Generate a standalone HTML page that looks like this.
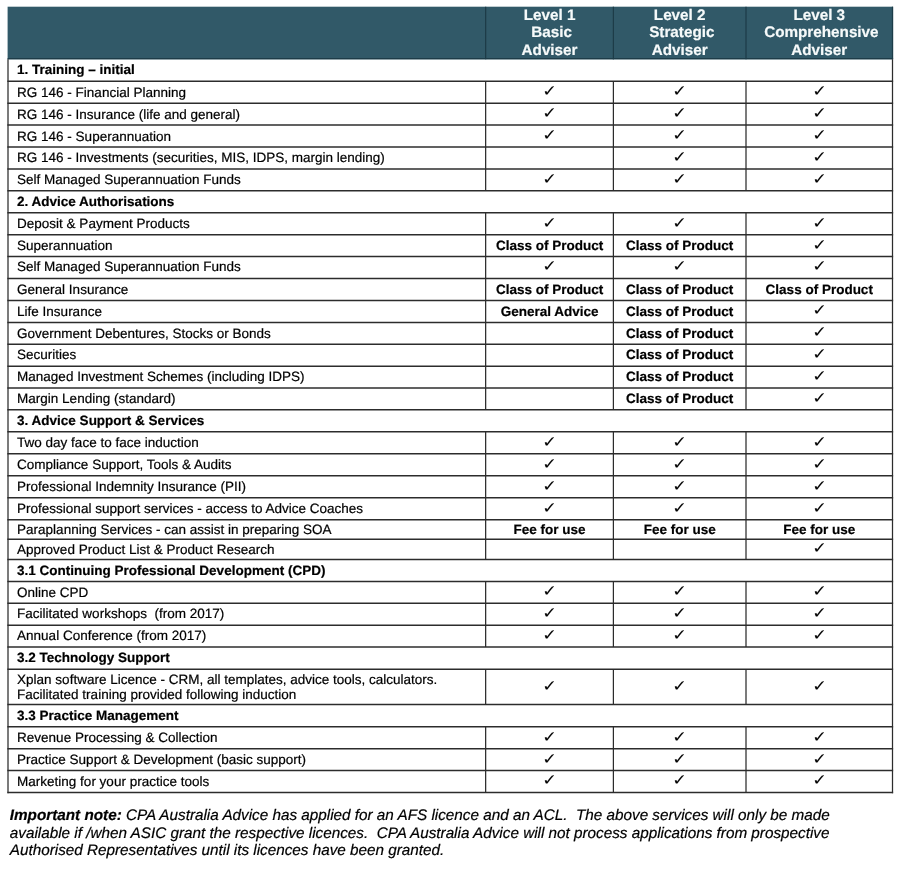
<!DOCTYPE html>
<html lang="en"><head><meta charset="utf-8"><title>Adviser levels</title>
<style>
html,body{margin:0;padding:0;background:#fff}
body{width:900px;height:870px;position:relative;overflow:hidden;font-family:"Liberation Sans",sans-serif;color:#000;text-rendering:geometricPrecision}
#g{position:absolute;left:0;top:0}
.t{position:absolute;white-space:pre;font-size:13.5px;line-height:16px;height:16px;-webkit-text-stroke:0.2px #000}
.l{left:17.1px}
.s{font-weight:bold}
.c{text-align:center;font-weight:bold}
.k{text-align:center;font-family:"DejaVu Sans",sans-serif;font-size:15.5px;-webkit-text-stroke:0.15px #000}
.k i{display:inline-block;font-style:normal;transform:scaleX(1.13)}
.h{position:absolute;color:#f6fafa;font-weight:bold;font-size:15.25px;line-height:18px;height:18px;text-align:center;white-space:pre;-webkit-text-stroke:0.2px #f6fafa}
.n{position:absolute;left:9.8px;font-size:15.28px;line-height:18px;height:18px;font-style:italic;white-space:pre;color:#000;-webkit-text-stroke:0.2px #000}
</style></head><body>

<svg id="g" width="900" height="870" viewBox="0 0 900 870">
<rect x="7.6" y="6.7" width="885.50" height="52.65" fill="#315968"/>
<line x1="485.65" y1="6.7" x2="485.65" y2="59.35" stroke="#1d3c48" stroke-width="1.25"/>
<line x1="613.4" y1="6.7" x2="613.4" y2="59.35" stroke="#1d3c48" stroke-width="1.25"/>
<line x1="746.0" y1="6.7" x2="746.0" y2="59.35" stroke="#1d3c48" stroke-width="1.25"/>
<line x1="7.6" y1="58.7" x2="893.1" y2="58.7" stroke="#1d3c48" stroke-width="1.3"/>
<line x1="892.5" y1="6.7" x2="892.5" y2="59.35" stroke="#1d3c48" stroke-width="1.25"/>
<line x1="8.0" y1="59.35" x2="8.0" y2="793.15" stroke="#2c2c2c" stroke-width="1.25"/>
<line x1="892.5" y1="59.35" x2="892.5" y2="793.15" stroke="#2c2c2c" stroke-width="1.25"/>
<line x1="7.375" y1="81.25" x2="893.125" y2="81.25" stroke="#2c2c2c" stroke-width="1.5"/>
<line x1="7.375" y1="103.15" x2="893.125" y2="103.15" stroke="#2c2c2c" stroke-width="1.5"/>
<line x1="7.375" y1="125.05" x2="893.125" y2="125.05" stroke="#2c2c2c" stroke-width="1.5"/>
<line x1="7.375" y1="147.10" x2="893.125" y2="147.10" stroke="#2c2c2c" stroke-width="1.5"/>
<line x1="7.375" y1="169.00" x2="893.125" y2="169.00" stroke="#2c2c2c" stroke-width="1.5"/>
<line x1="7.375" y1="190.80" x2="893.125" y2="190.80" stroke="#2c2c2c" stroke-width="1.5"/>
<line x1="7.375" y1="212.70" x2="893.125" y2="212.70" stroke="#2c2c2c" stroke-width="1.5"/>
<line x1="7.375" y1="234.70" x2="893.125" y2="234.70" stroke="#2c2c2c" stroke-width="1.5"/>
<line x1="7.375" y1="256.55" x2="893.125" y2="256.55" stroke="#2c2c2c" stroke-width="1.5"/>
<line x1="7.375" y1="278.50" x2="893.125" y2="278.50" stroke="#2c2c2c" stroke-width="1.5"/>
<line x1="7.375" y1="300.55" x2="893.125" y2="300.55" stroke="#2c2c2c" stroke-width="1.5"/>
<line x1="7.375" y1="322.50" x2="893.125" y2="322.50" stroke="#2c2c2c" stroke-width="1.5"/>
<line x1="7.375" y1="344.25" x2="893.125" y2="344.25" stroke="#2c2c2c" stroke-width="1.5"/>
<line x1="7.375" y1="366.20" x2="893.125" y2="366.20" stroke="#2c2c2c" stroke-width="1.5"/>
<line x1="7.375" y1="387.95" x2="893.125" y2="387.95" stroke="#2c2c2c" stroke-width="1.5"/>
<line x1="7.375" y1="409.80" x2="893.125" y2="409.80" stroke="#2c2c2c" stroke-width="1.5"/>
<line x1="7.375" y1="431.70" x2="893.125" y2="431.70" stroke="#2c2c2c" stroke-width="1.5"/>
<line x1="7.375" y1="453.70" x2="893.125" y2="453.70" stroke="#2c2c2c" stroke-width="1.5"/>
<line x1="7.375" y1="475.80" x2="893.125" y2="475.80" stroke="#2c2c2c" stroke-width="1.5"/>
<line x1="7.375" y1="497.80" x2="893.125" y2="497.80" stroke="#2c2c2c" stroke-width="1.5"/>
<line x1="7.375" y1="519.70" x2="893.125" y2="519.70" stroke="#2c2c2c" stroke-width="1.5"/>
<line x1="7.375" y1="539.35" x2="893.125" y2="539.35" stroke="#2c2c2c" stroke-width="1.5"/>
<line x1="7.375" y1="559.45" x2="893.125" y2="559.45" stroke="#2c2c2c" stroke-width="1.5"/>
<line x1="7.375" y1="581.50" x2="893.125" y2="581.50" stroke="#2c2c2c" stroke-width="1.5"/>
<line x1="7.375" y1="603.20" x2="893.125" y2="603.20" stroke="#2c2c2c" stroke-width="1.5"/>
<line x1="7.375" y1="625.20" x2="893.125" y2="625.20" stroke="#2c2c2c" stroke-width="1.5"/>
<line x1="7.375" y1="647.10" x2="893.125" y2="647.10" stroke="#2c2c2c" stroke-width="1.5"/>
<line x1="7.375" y1="669.30" x2="893.125" y2="669.30" stroke="#2c2c2c" stroke-width="1.5"/>
<line x1="7.375" y1="704.60" x2="893.125" y2="704.60" stroke="#2c2c2c" stroke-width="1.5"/>
<line x1="7.375" y1="726.75" x2="893.125" y2="726.75" stroke="#2c2c2c" stroke-width="1.5"/>
<line x1="7.375" y1="748.70" x2="893.125" y2="748.70" stroke="#2c2c2c" stroke-width="1.5"/>
<line x1="7.375" y1="770.60" x2="893.125" y2="770.60" stroke="#2c2c2c" stroke-width="1.5"/>
<line x1="7.375" y1="792.50" x2="893.125" y2="792.50" stroke="#2c2c2c" stroke-width="1.5"/>
<line x1="485.65" y1="81.15" x2="485.65" y2="103.05" stroke="#2c2c2c" stroke-width="1.25"/>
<line x1="613.4" y1="81.15" x2="613.4" y2="103.05" stroke="#2c2c2c" stroke-width="1.25"/>
<line x1="746.0" y1="81.15" x2="746.0" y2="103.05" stroke="#2c2c2c" stroke-width="1.25"/>
<line x1="485.65" y1="103.05" x2="485.65" y2="124.95" stroke="#2c2c2c" stroke-width="1.25"/>
<line x1="613.4" y1="103.05" x2="613.4" y2="124.95" stroke="#2c2c2c" stroke-width="1.25"/>
<line x1="746.0" y1="103.05" x2="746.0" y2="124.95" stroke="#2c2c2c" stroke-width="1.25"/>
<line x1="485.65" y1="124.95" x2="485.65" y2="147" stroke="#2c2c2c" stroke-width="1.25"/>
<line x1="613.4" y1="124.95" x2="613.4" y2="147" stroke="#2c2c2c" stroke-width="1.25"/>
<line x1="746.0" y1="124.95" x2="746.0" y2="147" stroke="#2c2c2c" stroke-width="1.25"/>
<line x1="485.65" y1="147" x2="485.65" y2="168.9" stroke="#2c2c2c" stroke-width="1.25"/>
<line x1="613.4" y1="147" x2="613.4" y2="168.9" stroke="#2c2c2c" stroke-width="1.25"/>
<line x1="746.0" y1="147" x2="746.0" y2="168.9" stroke="#2c2c2c" stroke-width="1.25"/>
<line x1="485.65" y1="168.9" x2="485.65" y2="190.7" stroke="#2c2c2c" stroke-width="1.25"/>
<line x1="613.4" y1="168.9" x2="613.4" y2="190.7" stroke="#2c2c2c" stroke-width="1.25"/>
<line x1="746.0" y1="168.9" x2="746.0" y2="190.7" stroke="#2c2c2c" stroke-width="1.25"/>
<line x1="485.65" y1="212.6" x2="485.65" y2="234.6" stroke="#2c2c2c" stroke-width="1.25"/>
<line x1="613.4" y1="212.6" x2="613.4" y2="234.6" stroke="#2c2c2c" stroke-width="1.25"/>
<line x1="746.0" y1="212.6" x2="746.0" y2="234.6" stroke="#2c2c2c" stroke-width="1.25"/>
<line x1="485.65" y1="234.6" x2="485.65" y2="256.45" stroke="#2c2c2c" stroke-width="1.25"/>
<line x1="613.4" y1="234.6" x2="613.4" y2="256.45" stroke="#2c2c2c" stroke-width="1.25"/>
<line x1="746.0" y1="234.6" x2="746.0" y2="256.45" stroke="#2c2c2c" stroke-width="1.25"/>
<line x1="485.65" y1="256.45" x2="485.65" y2="278.4" stroke="#2c2c2c" stroke-width="1.25"/>
<line x1="613.4" y1="256.45" x2="613.4" y2="278.4" stroke="#2c2c2c" stroke-width="1.25"/>
<line x1="746.0" y1="256.45" x2="746.0" y2="278.4" stroke="#2c2c2c" stroke-width="1.25"/>
<line x1="485.65" y1="278.4" x2="485.65" y2="300.45" stroke="#2c2c2c" stroke-width="1.25"/>
<line x1="613.4" y1="278.4" x2="613.4" y2="300.45" stroke="#2c2c2c" stroke-width="1.25"/>
<line x1="746.0" y1="278.4" x2="746.0" y2="300.45" stroke="#2c2c2c" stroke-width="1.25"/>
<line x1="485.65" y1="300.45" x2="485.65" y2="322.4" stroke="#2c2c2c" stroke-width="1.25"/>
<line x1="613.4" y1="300.45" x2="613.4" y2="322.4" stroke="#2c2c2c" stroke-width="1.25"/>
<line x1="746.0" y1="300.45" x2="746.0" y2="322.4" stroke="#2c2c2c" stroke-width="1.25"/>
<line x1="485.65" y1="322.4" x2="485.65" y2="344.15" stroke="#2c2c2c" stroke-width="1.25"/>
<line x1="613.4" y1="322.4" x2="613.4" y2="344.15" stroke="#2c2c2c" stroke-width="1.25"/>
<line x1="746.0" y1="322.4" x2="746.0" y2="344.15" stroke="#2c2c2c" stroke-width="1.25"/>
<line x1="485.65" y1="344.15" x2="485.65" y2="366.1" stroke="#2c2c2c" stroke-width="1.25"/>
<line x1="613.4" y1="344.15" x2="613.4" y2="366.1" stroke="#2c2c2c" stroke-width="1.25"/>
<line x1="746.0" y1="344.15" x2="746.0" y2="366.1" stroke="#2c2c2c" stroke-width="1.25"/>
<line x1="485.65" y1="366.1" x2="485.65" y2="387.85" stroke="#2c2c2c" stroke-width="1.25"/>
<line x1="613.4" y1="366.1" x2="613.4" y2="387.85" stroke="#2c2c2c" stroke-width="1.25"/>
<line x1="746.0" y1="366.1" x2="746.0" y2="387.85" stroke="#2c2c2c" stroke-width="1.25"/>
<line x1="485.65" y1="387.85" x2="485.65" y2="409.7" stroke="#2c2c2c" stroke-width="1.25"/>
<line x1="613.4" y1="387.85" x2="613.4" y2="409.7" stroke="#2c2c2c" stroke-width="1.25"/>
<line x1="746.0" y1="387.85" x2="746.0" y2="409.7" stroke="#2c2c2c" stroke-width="1.25"/>
<line x1="485.65" y1="431.6" x2="485.65" y2="453.6" stroke="#2c2c2c" stroke-width="1.25"/>
<line x1="613.4" y1="431.6" x2="613.4" y2="453.6" stroke="#2c2c2c" stroke-width="1.25"/>
<line x1="746.0" y1="431.6" x2="746.0" y2="453.6" stroke="#2c2c2c" stroke-width="1.25"/>
<line x1="485.65" y1="453.6" x2="485.65" y2="475.7" stroke="#2c2c2c" stroke-width="1.25"/>
<line x1="613.4" y1="453.6" x2="613.4" y2="475.7" stroke="#2c2c2c" stroke-width="1.25"/>
<line x1="746.0" y1="453.6" x2="746.0" y2="475.7" stroke="#2c2c2c" stroke-width="1.25"/>
<line x1="485.65" y1="475.7" x2="485.65" y2="497.7" stroke="#2c2c2c" stroke-width="1.25"/>
<line x1="613.4" y1="475.7" x2="613.4" y2="497.7" stroke="#2c2c2c" stroke-width="1.25"/>
<line x1="746.0" y1="475.7" x2="746.0" y2="497.7" stroke="#2c2c2c" stroke-width="1.25"/>
<line x1="485.65" y1="497.7" x2="485.65" y2="519.6" stroke="#2c2c2c" stroke-width="1.25"/>
<line x1="613.4" y1="497.7" x2="613.4" y2="519.6" stroke="#2c2c2c" stroke-width="1.25"/>
<line x1="746.0" y1="497.7" x2="746.0" y2="519.6" stroke="#2c2c2c" stroke-width="1.25"/>
<line x1="485.65" y1="519.6" x2="485.65" y2="539.25" stroke="#2c2c2c" stroke-width="1.25"/>
<line x1="613.4" y1="519.6" x2="613.4" y2="539.25" stroke="#2c2c2c" stroke-width="1.25"/>
<line x1="746.0" y1="519.6" x2="746.0" y2="539.25" stroke="#2c2c2c" stroke-width="1.25"/>
<line x1="485.65" y1="539.25" x2="485.65" y2="559.35" stroke="#2c2c2c" stroke-width="1.25"/>
<line x1="613.4" y1="539.25" x2="613.4" y2="559.35" stroke="#2c2c2c" stroke-width="1.25"/>
<line x1="746.0" y1="539.25" x2="746.0" y2="559.35" stroke="#2c2c2c" stroke-width="1.25"/>
<line x1="485.65" y1="581.4" x2="485.65" y2="603.1" stroke="#2c2c2c" stroke-width="1.25"/>
<line x1="613.4" y1="581.4" x2="613.4" y2="603.1" stroke="#2c2c2c" stroke-width="1.25"/>
<line x1="746.0" y1="581.4" x2="746.0" y2="603.1" stroke="#2c2c2c" stroke-width="1.25"/>
<line x1="485.65" y1="603.1" x2="485.65" y2="625.1" stroke="#2c2c2c" stroke-width="1.25"/>
<line x1="613.4" y1="603.1" x2="613.4" y2="625.1" stroke="#2c2c2c" stroke-width="1.25"/>
<line x1="746.0" y1="603.1" x2="746.0" y2="625.1" stroke="#2c2c2c" stroke-width="1.25"/>
<line x1="485.65" y1="625.1" x2="485.65" y2="647.0" stroke="#2c2c2c" stroke-width="1.25"/>
<line x1="613.4" y1="625.1" x2="613.4" y2="647.0" stroke="#2c2c2c" stroke-width="1.25"/>
<line x1="746.0" y1="625.1" x2="746.0" y2="647.0" stroke="#2c2c2c" stroke-width="1.25"/>
<line x1="485.65" y1="669.2" x2="485.65" y2="704.5" stroke="#2c2c2c" stroke-width="1.25"/>
<line x1="613.4" y1="669.2" x2="613.4" y2="704.5" stroke="#2c2c2c" stroke-width="1.25"/>
<line x1="746.0" y1="669.2" x2="746.0" y2="704.5" stroke="#2c2c2c" stroke-width="1.25"/>
<line x1="485.65" y1="726.65" x2="485.65" y2="748.6" stroke="#2c2c2c" stroke-width="1.25"/>
<line x1="613.4" y1="726.65" x2="613.4" y2="748.6" stroke="#2c2c2c" stroke-width="1.25"/>
<line x1="746.0" y1="726.65" x2="746.0" y2="748.6" stroke="#2c2c2c" stroke-width="1.25"/>
<line x1="485.65" y1="748.6" x2="485.65" y2="770.5" stroke="#2c2c2c" stroke-width="1.25"/>
<line x1="613.4" y1="748.6" x2="613.4" y2="770.5" stroke="#2c2c2c" stroke-width="1.25"/>
<line x1="746.0" y1="748.6" x2="746.0" y2="770.5" stroke="#2c2c2c" stroke-width="1.25"/>
<line x1="485.65" y1="770.5" x2="485.65" y2="792.4" stroke="#2c2c2c" stroke-width="1.25"/>
<line x1="613.4" y1="770.5" x2="613.4" y2="792.4" stroke="#2c2c2c" stroke-width="1.25"/>
<line x1="746.0" y1="770.5" x2="746.0" y2="792.4" stroke="#2c2c2c" stroke-width="1.25"/>
</svg>
<div class="h" style="left:485.65px;width:127.8px;top:7px">Level 1</div>
<div class="h" style="left:485.65px;width:127.8px;top:24px"> Basic</div>
<div class="h" style="left:485.65px;width:127.8px;top:42px">Adviser</div>
<div class="h" style="left:613.4px;width:132.6px;top:7px">Level 2</div>
<div class="h" style="left:613.4px;width:132.6px;top:24px"> Strategic</div>
<div class="h" style="left:613.4px;width:132.6px;top:42px">Adviser</div>
<div class="h" style="left:746.0px;width:146.5px;top:7px">Level 3</div>
<div class="h" style="left:746.0px;width:146.5px;top:24px"> Comprehensive</div>
<div class="h" style="left:746.0px;width:146.5px;top:42px">Adviser</div>
<div class="t l s" style="top:62px">1. Training – initial</div>
<div class="t l" style="top:85px">RG 146 - Financial Planning</div>
<div class="t k" style="left:485.65px;width:127.8px;top:83px"><i>✓</i></div>
<div class="t k" style="left:613.4px;width:132.6px;top:83px"><i>✓</i></div>
<div class="t k" style="left:746.0px;width:146.5px;top:83px"><i>✓</i></div>
<div class="t l" style="top:107px">RG 146 - Insurance (life and general)</div>
<div class="t k" style="left:485.65px;width:127.8px;top:105px"><i>✓</i></div>
<div class="t k" style="left:613.4px;width:132.6px;top:105px"><i>✓</i></div>
<div class="t k" style="left:746.0px;width:146.5px;top:105px"><i>✓</i></div>
<div class="t l" style="top:129px">RG 146 - Superannuation</div>
<div class="t k" style="left:485.65px;width:127.8px;top:127px"><i>✓</i></div>
<div class="t k" style="left:613.4px;width:132.6px;top:127px"><i>✓</i></div>
<div class="t k" style="left:746.0px;width:146.5px;top:127px"><i>✓</i></div>
<div class="t l" style="top:150px">RG 146 - Investments (securities, MIS, IDPS, margin lending)</div>
<div class="t k" style="left:613.4px;width:132.6px;top:149px"><i>✓</i></div>
<div class="t k" style="left:746.0px;width:146.5px;top:149px"><i>✓</i></div>
<div class="t l" style="top:172px">Self Managed Superannuation Funds</div>
<div class="t k" style="left:485.65px;width:127.8px;top:171px"><i>✓</i></div>
<div class="t k" style="left:613.4px;width:132.6px;top:171px"><i>✓</i></div>
<div class="t k" style="left:746.0px;width:146.5px;top:171px"><i>✓</i></div>
<div class="t l s" style="top:194px">2. Advice Authorisations</div>
<div class="t l" style="top:216px">Deposit &amp; Payment Products</div>
<div class="t k" style="left:485.65px;width:127.8px;top:215px"><i>✓</i></div>
<div class="t k" style="left:613.4px;width:132.6px;top:215px"><i>✓</i></div>
<div class="t k" style="left:746.0px;width:146.5px;top:215px"><i>✓</i></div>
<div class="t l" style="top:238px">Superannuation</div>
<div class="t c" style="left:485.65px;width:127.8px;top:238px">Class of Product</div>
<div class="t c" style="left:613.4px;width:132.6px;top:238px">Class of Product</div>
<div class="t k" style="left:746.0px;width:146.5px;top:237px"><i>✓</i></div>
<div class="t l" style="top:259px">Self Managed Superannuation Funds</div>
<div class="t k" style="left:485.65px;width:127.8px;top:258px"><i>✓</i></div>
<div class="t k" style="left:613.4px;width:132.6px;top:258px"><i>✓</i></div>
<div class="t k" style="left:746.0px;width:146.5px;top:258px"><i>✓</i></div>
<div class="t l" style="top:282px">General Insurance</div>
<div class="t c" style="left:485.65px;width:127.8px;top:282px">Class of Product</div>
<div class="t c" style="left:613.4px;width:132.6px;top:282px">Class of Product</div>
<div class="t c" style="left:746.0px;width:146.5px;top:282px">Class of Product</div>
<div class="t l" style="top:304px">Life Insurance</div>
<div class="t c" style="left:485.65px;width:127.8px;top:304px">General Advice</div>
<div class="t c" style="left:613.4px;width:132.6px;top:304px">Class of Product</div>
<div class="t k" style="left:746.0px;width:146.5px;top:302px"><i>✓</i></div>
<div class="t l" style="top:326px">Government Debentures, Stocks or Bonds</div>
<div class="t c" style="left:613.4px;width:132.6px;top:326px">Class of Product</div>
<div class="t k" style="left:746.0px;width:146.5px;top:324px"><i>✓</i></div>
<div class="t l" style="top:347px">Securities</div>
<div class="t c" style="left:613.4px;width:132.6px;top:347px">Class of Product</div>
<div class="t k" style="left:746.0px;width:146.5px;top:346px"><i>✓</i></div>
<div class="t l" style="top:369px">Managed Investment Schemes (including IDPS)</div>
<div class="t c" style="left:613.4px;width:132.6px;top:369px">Class of Product</div>
<div class="t k" style="left:746.0px;width:146.5px;top:368px"><i>✓</i></div>
<div class="t l" style="top:391px">Margin Lending (standard)</div>
<div class="t c" style="left:613.4px;width:132.6px;top:391px">Class of Product</div>
<div class="t k" style="left:746.0px;width:146.5px;top:390px"><i>✓</i></div>
<div class="t l s" style="top:413px">3. Advice Support &amp; Services</div>
<div class="t l" style="top:435px">Two day face to face induction</div>
<div class="t k" style="left:485.65px;width:127.8px;top:434px"><i>✓</i></div>
<div class="t k" style="left:613.4px;width:132.6px;top:434px"><i>✓</i></div>
<div class="t k" style="left:746.0px;width:146.5px;top:434px"><i>✓</i></div>
<div class="t l" style="top:457px">Compliance Support, Tools &amp; Audits</div>
<div class="t k" style="left:485.65px;width:127.8px;top:456px"><i>✓</i></div>
<div class="t k" style="left:613.4px;width:132.6px;top:456px"><i>✓</i></div>
<div class="t k" style="left:746.0px;width:146.5px;top:456px"><i>✓</i></div>
<div class="t l" style="top:479px">Professional Indemnity Insurance (PII)</div>
<div class="t k" style="left:485.65px;width:127.8px;top:478px"><i>✓</i></div>
<div class="t k" style="left:613.4px;width:132.6px;top:478px"><i>✓</i></div>
<div class="t k" style="left:746.0px;width:146.5px;top:478px"><i>✓</i></div>
<div class="t l" style="top:501px">Professional support services - access to Advice Coaches</div>
<div class="t k" style="left:485.65px;width:127.8px;top:500px"><i>✓</i></div>
<div class="t k" style="left:613.4px;width:132.6px;top:500px"><i>✓</i></div>
<div class="t k" style="left:746.0px;width:146.5px;top:500px"><i>✓</i></div>
<div class="t l" style="top:522px">Paraplanning Services - can assist in preparing SOA</div>
<div class="t c" style="left:485.65px;width:127.8px;top:522px">Fee for use</div>
<div class="t c" style="left:613.4px;width:132.6px;top:522px">Fee for use</div>
<div class="t c" style="left:746.0px;width:146.5px;top:522px">Fee for use</div>
<div class="t l" style="top:542px">Approved Product List &amp; Product Research</div>
<div class="t k" style="left:746.0px;width:146.5px;top:540px"><i>✓</i></div>
<div class="t l s" style="top:563px">3.1 Continuing Professional Development (CPD)</div>
<div class="t l" style="top:585px">Online CPD</div>
<div class="t k" style="left:485.65px;width:127.8px;top:583px"><i>✓</i></div>
<div class="t k" style="left:613.4px;width:132.6px;top:583px"><i>✓</i></div>
<div class="t k" style="left:746.0px;width:146.5px;top:583px"><i>✓</i></div>
<div class="t l" style="top:606px">Facilitated workshops&nbsp; (from 2017)</div>
<div class="t k" style="left:485.65px;width:127.8px;top:605px"><i>✓</i></div>
<div class="t k" style="left:613.4px;width:132.6px;top:605px"><i>✓</i></div>
<div class="t k" style="left:746.0px;width:146.5px;top:605px"><i>✓</i></div>
<div class="t l" style="top:628px">Annual Conference (from 2017)</div>
<div class="t k" style="left:485.65px;width:127.8px;top:627px"><i>✓</i></div>
<div class="t k" style="left:613.4px;width:132.6px;top:627px"><i>✓</i></div>
<div class="t k" style="left:746.0px;width:146.5px;top:627px"><i>✓</i></div>
<div class="t l s" style="top:650px">3.2 Technology Support</div>
<div class="t l" style="top:672px">Xplan software Licence - CRM, all templates, advice tools, calculators.</div>
<div class="t l" style="top:687px">Facilitated training provided following induction</div>
<div class="t k" style="left:485.65px;width:127.8px;top:678px"><i>✓</i></div>
<div class="t k" style="left:613.4px;width:132.6px;top:678px"><i>✓</i></div>
<div class="t k" style="left:746.0px;width:146.5px;top:678px"><i>✓</i></div>
<div class="t l s" style="top:708px">3.3 Practice Management</div>
<div class="t l" style="top:730px">Revenue Processing &amp; Collection</div>
<div class="t k" style="left:485.65px;width:127.8px;top:729px"><i>✓</i></div>
<div class="t k" style="left:613.4px;width:132.6px;top:729px"><i>✓</i></div>
<div class="t k" style="left:746.0px;width:146.5px;top:729px"><i>✓</i></div>
<div class="t l" style="top:752px">Practice Support &amp; Development (basic support)</div>
<div class="t k" style="left:485.65px;width:127.8px;top:751px"><i>✓</i></div>
<div class="t k" style="left:613.4px;width:132.6px;top:751px"><i>✓</i></div>
<div class="t k" style="left:746.0px;width:146.5px;top:751px"><i>✓</i></div>
<div class="t l" style="top:774px">Marketing for your practice tools</div>
<div class="t k" style="left:485.65px;width:127.8px;top:772px"><i>✓</i></div>
<div class="t k" style="left:613.4px;width:132.6px;top:772px"><i>✓</i></div>
<div class="t k" style="left:746.0px;width:146.5px;top:772px"><i>✓</i></div>
<div class="n" style="top:807px"><b>Important note:</b> CPA Australia Advice has applied for an AFS licence and an ACL.  The above services will only be made</div>
<div class="n" style="top:825px">available if /when ASIC grant the respective licences.  CPA Australia Advice will not process applications from prospective</div>
<div class="n" style="top:842px">Authorised Representatives until its licences have been granted.</div>
</body></html>
